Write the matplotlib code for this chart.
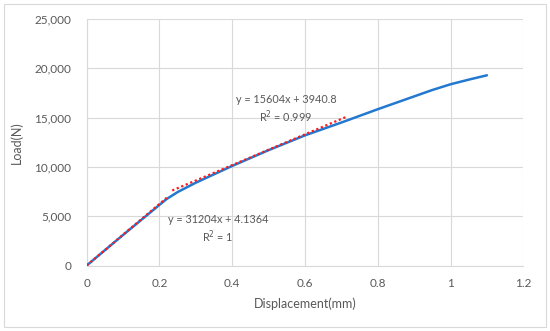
import matplotlib
matplotlib.use("Agg")
import matplotlib.pyplot as plt
from matplotlib.patches import Rectangle
import numpy as np

# Measured load-displacement curve
disp = [0, 0.1, 0.2, 0.22, 0.25, 0.3, 0.4, 0.5, 0.6, 0.7, 0.8, 0.9, 0.95, 1.0, 1.05, 1.1]
load = [0, 3100, 6150, 6750, 7450, 8400, 10100, 11700, 13200, 14500, 15850, 17150, 17800, 18380, 18850, 19290]

# Linear trendlines (slope, intercept, x-range)
fit1_coef = [31204, 4.1364]
fit1_range = [0.0, 0.22]
fit2_coef = [15604, 3940.8]
fit2_range = [0.235, 0.716]

fit1_label = "y = 31204x + 4.1364\nR$^2$ = 1"
fit2_label = "y = 15604x + 3940.8\nR$^2$ = 0.999"

xticks = [0, 0.2, 0.4, 0.6, 0.8, 1, 1.2]
xticklabels = ["0", "0.2", "0.4", "0.6", "0.8", "1", "1.2"]
yticks = [0, 5000, 10000, 15000, 20000, 25000]
yticklabels = ["0", "5,000", "10,000", "15,000", "20,000", "25,000"]

plt.rcParams['font.family'] = ['Lato', 'DejaVu Sans']
txt = '#595959'
grid = '#d9d9d9'

fig = plt.figure(figsize=(5.5, 3.31), dpi=100)
fig.patches.append(Rectangle((4/550, 1-327/331), 542/550, 323/331,
                             transform=fig.transFigure, fill=False,
                             edgecolor=grid, linewidth=0.8))
ax = fig.add_axes([86.7/550, 1-265.5/331, (523.3-86.7)/550, (265.5-19)/331])

ax.plot(disp, load, color='#2378d0', linewidth=1.8, zorder=3, solid_capstyle='round')
for coef, rng in [(fit1_coef, fit1_range), (fit2_coef, fit2_range)]:
    xs = np.array(rng)
    ax.plot(xs, coef[0]*xs + coef[1], color='#ff1a1a', linestyle=(0, (1, 1.2)),
            linewidth=1.6, zorder=4)

ax.set_xlim(0, 1.2)
ax.set_ylim(0, 25000)
ax.set_xticks(xticks)
ax.set_xticklabels(xticklabels)
ax.set_yticks(yticks)
ax.set_yticklabels(yticklabels)
ax.grid(True, color=grid, linewidth=0.8)
ax.set_axisbelow(True)
for s in ['top', 'right']:
    ax.spines[s].set_visible(False)
for s in ['left', 'bottom']:
    ax.spines[s].set_color(grid)
    ax.spines[s].set_linewidth(0.8)
ax.tick_params(length=0, colors=txt, labelsize=8.5, pad=9)
ax.tick_params(axis='y', pad=11)

ax.set_xlabel("Displacement(mm)", color=txt, fontsize=9, labelpad=6)
ax.set_ylabel("Load(N)", color=txt, fontsize=9, labelpad=8)

ax.text(0.548, 15800, fit2_label, color=txt, fontsize=7.8, ha='center', va='center',
        linespacing=1.3)
ax.text(0.361, 3630, fit1_label, color=txt, fontsize=7.8, ha='center', va='center',
        linespacing=1.3)

fig.savefig("out.png", dpi=100)
